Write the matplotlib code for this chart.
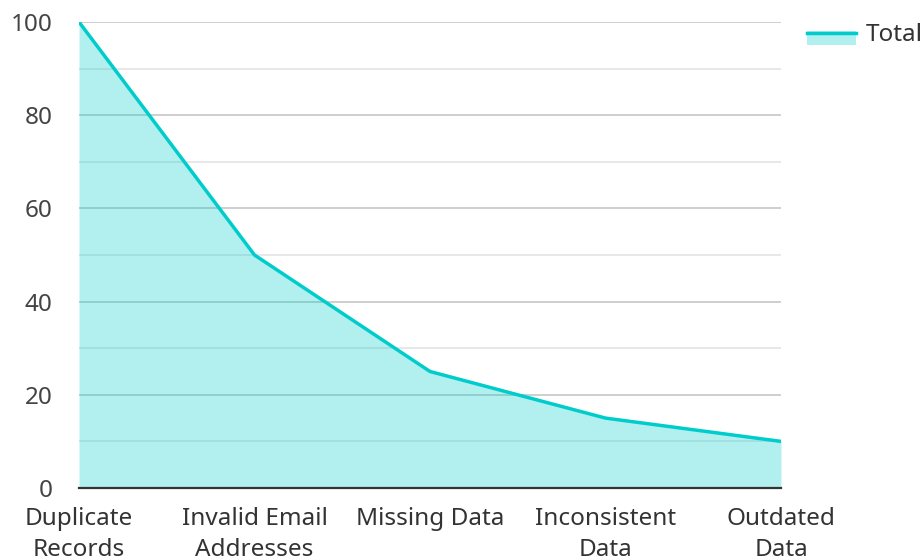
import matplotlib
matplotlib.use("Agg")
import matplotlib.pyplot as plt
from matplotlib.patches import Rectangle
from matplotlib.lines import Line2D

categories = ["Duplicate\nRecords", "Invalid Email\nAddresses", "Missing Data",
              "Inconsistent\nData", "Outdated\nData"]
values = [100, 50, 25, 15, 10]
series_name = "Total"
yticks = [0, 20, 40, 60, 80, 100]

plt.rcParams['font.family'] = ['Noto Sans', 'DejaVu Sans']

W, H = 922, 560
fig = plt.figure(figsize=(W / 100, H / 100), dpi=100)
ax = fig.add_axes([79 / W, (H - 488) / H, (781 - 79) / W, (488 - 22) / H])

x = list(range(len(categories)))
line_color = "#00cccc"
ax.fill_between(x, values, 0, color=line_color, alpha=0.3, linewidth=0, zorder=2)
ax.plot(x, values, color=line_color, linewidth=2.5, zorder=3, solid_joinstyle='round')

ax.set_xlim(0, len(categories) - 1)
ax.set_ylim(0, 100)
ax.set_yticks(yticks)
ax.set_yticks([10, 30, 50, 70, 90], minor=True)
ax.grid(True, which='major', axis='y', color='#cccccc', linewidth=1.3, zorder=1)
ax.grid(True, which='minor', axis='y', color='#e6e6e6', linewidth=1.3, zorder=1)
ax.set_axisbelow(True)

ax.set_xticks(x)
ax.set_xticklabels(categories, fontsize=17.5, color='#333333', linespacing=1.35)
ax.tick_params(axis='x', length=0, pad=14)
ax.tick_params(axis='y', which='both', length=0, pad=19, labelsize=17.5, labelcolor='#444444')

for s in ['left', 'right', 'top']:
    ax.spines[s].set_visible(False)
ax.spines['bottom'].set_color('#333333')
ax.spines['bottom'].set_linewidth(1.6)
ax.spines['bottom'].set_zorder(4)

# legend
fig.add_artist(Rectangle((807 / W, (H - 45) / H), 49 / W, 14 / H,
                         transform=fig.transFigure, facecolor=line_color, alpha=0.3,
                         edgecolor='none'))
fig.add_artist(Line2D([807 / W, 856 / W], [(H - 33) / H, (H - 33) / H],
                      transform=fig.transFigure, color=line_color, linewidth=2.5))
fig.text(866 / W, (H - 35) / H, series_name, fontsize=17.5, color='#333333',
         va='center', ha='left')

fig.savefig("out.png", dpi=100)
